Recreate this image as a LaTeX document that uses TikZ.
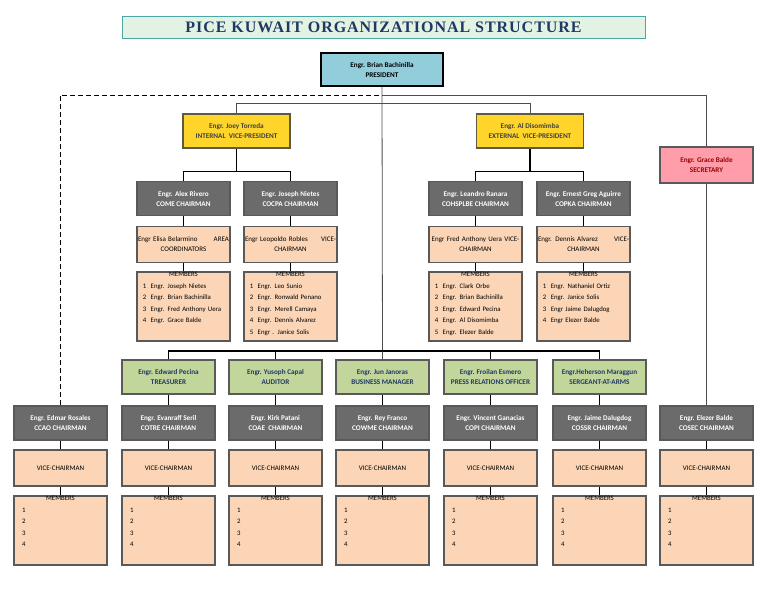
\documentclass[tikz,border=0pt]{standalone}
\usepackage{fontspec}
\setmainfont{Carlito}
\newfontfamily\ttlfont[LetterSpace=6]{Liberation Serif}
\usetikzlibrary{calc}
\definecolor{pres}{HTML}{92CDDC}
\definecolor{vp}{HTML}{FFD52B}
\definecolor{dk}{HTML}{6B6B6B}
\definecolor{pc}{HTML}{FBD5B5}
\definecolor{gr}{HTML}{C2D69B}
\definecolor{pk}{HTML}{FF9DAA}
\definecolor{navy}{HTML}{1F3864}
\definecolor{ttl}{HTML}{E2F3E4}
\begin{document}
\begin{tikzpicture}[x=1pt,y=-1pt,
 box/.style={draw=black!65,line width=1.2pt,inner sep=1pt,align=center,font=\fontsize{7.2}{10}\selectfont\bfseries},
 presb/.style={box,fill=pres,draw=black,line width=1.6pt,minimum width=122,minimum height=33},
 vpb/.style={box,fill=vp,draw=black!55!yellow!60!black,minimum width=107,minimum height=34,text=black!75},
 dkb/.style={box,fill=dk,text=white,minimum width=93,minimum height=34},
 grb/.style={box,fill=gr,text=navy,minimum width=93,minimum height=34},
 pkb/.style={box,fill=pk,text=red!60!black,minimum width=93,minimum height=36},
 vcb/.style={box,fill=pc,font=\fontsize{7}{10}\selectfont,minimum width=93,minimum height=36,text width=91},
 memb/.style={draw=black!65,line width=1.2pt,fill=pc,minimum width=93,minimum height=69,inner sep=0},
 memt/.style={anchor=north,inner sep=0.5pt,font=\fontsize{6.8}{11.5}\selectfont,text width=86,align=left},
 ln/.style={line width=1.1pt,black},
 thin/.style={line width=0.8pt,black!70}]
\useasboundingbox (0,0) rectangle (768,594);
\node[draw=teal!70,fill=ttl,line width=0.6pt,minimum width=523,minimum height=22,inner sep=0,font=\fontsize{16}{16}\selectfont\bfseries,text=navy] (title) at (383.5,27) {\ttlfont PICE KUWAIT ORGANIZATIONAL STRUCTURE};
\node[presb] (pres) at (382,69.5) {Engr. Brian Bachinilla\\PRESIDENT};
\node[vpb] (ivp) at (236.5,131) {Engr. Joey Torreda\\INTERNAL\ \ VICE-PRESIDENT};
\node[vpb] (evp) at (530,131) {Engr. Al Disomimba\\EXTERNAL\ \ VICE-PRESIDENT};
\node[pkb] (sec) at (706.5,165) {Engr. Grace Balde\\SECRETARY};
% upper chairmen
\node[dkb] (come) at (183.5,198.5) {Engr. Alex Rivero\\COME CHAIRMAN};
\node[dkb] (cocpa) at (290.5,198.5) {Engr. Joseph Nietes\\COCPA CHAIRMAN};
\node[dkb] (cohs) at (475.5,198.5) {Engr. Leandro Ranara\\COHSPLBE CHAIRMAN};
\node[dkb] (copka) at (583.5,198.5) {Engr. Ernest Greg Aguirre\\COPKA CHAIRMAN};
\node[vcb] (v1) at (183.5,244.5) {Engr Elisa Belarmino\hfill AREA\\ \centering COORDINATORS};
\node[vcb] (v2) at (290.5,244.5) {Engr Leopoldo Robles\hfill VICE-\\ \centering CHAIRMAN};
\node[vcb] (v3) at (475.5,244.5) {Engr Fred Anthony Uera VICE-\\ \centering CHAIRMAN};
\node[vcb] (v4) at (583.5,244.5) {Engr. Dennis Alvarez\hfill VICE-\\ \centering CHAIRMAN};
\foreach \n/\x in {m1/183.5,m2/290.5,m3/475.5,m4/583.5}{\node[memb] (\n) at (\x,306.5) {};}
\node[memt] at (m1.north) {\hfil MEMBERS\hfil\\ \ 1\ \ Engr. Joseph Nietes\\ \ 2\ \ Engr. Brian Bachinilla\\ \ 3\ \ Engr. Fred Anthony Uera\\ \ 4\ \ Engr. Grace Balde};
\node[memt] at (m2.north) {\hfil MEMBERS\hfil\\ \ 1\ \ Engr. Leo Sunio\\ \ 2\ \ Engr. Ronwald Penano\\ \ 3\ \ Engr. Merell Camaya\\ \ 4\ \ Engr. Dennis Alvarez\\ \ 5\ \ Engr . Janice Solis};
\node[memt] at (m3.north) {\hfil MEMBERS\hfil\\ \ 1\ \ Engr. Clark Orbe\\ \ 2\ \ Engr. Brian Bachinilla\\ \ 3\ \ Engr. Edward Pecina\\ \ 4\ \ Engr. Al Disomimba\\ \ 5\ \ Engr. Elezer Balde};
\node[memt] at (m4.north) {\hfil MEMBERS\hfil\\ \ 1\ \ Engr. Nathaniel Ortiz\\ \ 2\ \ Engr. Janice Solis\\ \ 3\ \ Engr Jaime Dalugdog\\ \ 4\ \ Engr Elezer Balde};
% green row
\node[grb] (tre) at (168.5,377) {Engr. Edward Pecina\\TREASURER};
\node[grb] (aud) at (275.5,377) {Engr. Yusoph Capal\\AUDITOR};
\node[grb] (bus) at (382.5,377) {Engr. Jun Janoras\\BUSINESS MANAGER};
\node[grb] (pro) at (490.5,377) {Engr. Froilan Esmero\\PRESS RELATIONS OFFICER};
\node[grb] (saa) at (599.5,377) {Engr.Heherson Maraggun\\SERGEANT-AT-ARMS};
% lower chairmen
\node[dkb] (ccao) at (60.5,423) {Engr. Edmar Rosales\\CCAO CHAIRMAN};
\node[dkb] (cotre) at (168.5,423) {Engr. Evanraff Seril\\COTRE CHAIRMAN};
\node[dkb] (coae) at (275.5,423) {Engr. Kirk Patani\\COAE\ \ CHAIRMAN};
\node[dkb] (cowme) at (382.5,423) {Engr. Rey Franco\\COWME CHAIRMAN};
\node[dkb] (copi) at (490.5,423) {Engr. Vincent Ganacias\\COPI CHAIRMAN};
\node[dkb] (cossr) at (599.5,423) {Engr. Jaime Dalugdog\\COSSR CHAIRMAN};
\node[dkb] (cosec) at (706.5,423) {Engr. Elezer Balde\\COSEC CHAIRMAN};
\foreach \c/\x in {ccao/60.5,cotre/168.5,coae/275.5,cowme/382.5,copi/490.5,cossr/599.5,cosec/706.5}{
 \node[vcb,align=center] (v\c) at (\x,468) {VICE-CHAIRMAN};
 \node[memb] (m\c) at (\x,530.5) {};
 \node[memt] at (m\c.north) {\hfil MEMBERS\hfil\\ \ \ 1\\ \ \ 2\\ \ \ 3\\ \ \ 4};
 \draw[ln] (\c.south) -- (v\c.north);
 \draw[ln] (v\c.south) -- (m\c.north);
}
% connectors
\coordinate (dl) at (60.5,95);
\draw[line width=1pt,dashed,dash pattern=on 5pt off 3pt] (ccao.north) -- (dl) -- (pres.south |- dl);
\draw[thin] (pres.south |- dl) -| (sec.north);
\draw[thin] (sec.south) -- (cosec.north);
\draw[thin] (pres.south) -- (bus.north);
\draw[thin] (ivp.north) -- ++(0,-10) -| (evp.north);
\draw[ln] (ivp.south) -- ++(0,23) coordinate (b1);
\draw[ln] (come.north) |- (b1) -| (cocpa.north);
\draw[ln] (evp.south) -- ++(0,23) coordinate (b2);
\draw[ln] (cohs.north) |- (b2) -| (copka.north);
\foreach \a/\b in {come/v1,cocpa/v2,cohs/v3,copka/v4,v1/m1,v2/m2,v3/m3,v4/m4}{\draw[ln] (\a.south) -- (\b.north);}
\coordinate (gb) at (382.5,351);
\draw[ln] (tre.north) |- (gb) -| (saa.north);
\draw[ln] (aud.north) -- (aud.north |- gb);
\draw[ln] (pro.north) -- (pro.north |- gb);
\foreach \a/\b in {tre/cotre,aud/coae,bus/cowme,pro/copi,saa/cossr}{\draw[ln] (\a.south) -- (\b.north);}
\end{tikzpicture}
\end{document}
